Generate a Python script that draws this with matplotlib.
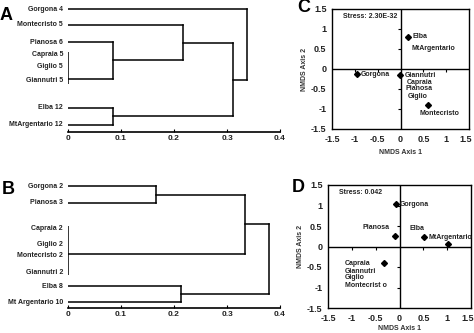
import matplotlib
matplotlib.use("Agg")
import matplotlib.pyplot as plt
import matplotlib.transforms as mtransforms

plt.rcParams['font.family'] = ['Liberation Sans', 'DejaVu Sans']

W, H = 474, 333

# ---------------- data ----------------
A_labels = ["Gorgona 4", "Montecristo 5", "Pianosa 6", "Capraia 5", "Giglio 5",
            "Giannutri 5", "Elba 12", "MtArgentario 12"]
A_leaf_y = [9.5, 25, 42, 55, 67, 81, 108, 125]
A_merges = [([3, 4, 5], 0.0), ([2, 8], 0.085), ([1, 9], 0.217),
            ([6, 7], 0.085), ([10, 11], 0.311), ([0, 12], 0.338)]
A_tie_anchor = 79

B_labels = ["Gorgona 2", "Pianosa 3", "Capraia 2", "Giglio 2", "Montecristo 2",
            "Giannutri 2", "Elba 8", "Mt Argentario 10"]
B_leaf_y = [186, 203, 229, 245, 255.5, 272, 286, 302]
B_merges = [([0, 1], 0.166), ([2, 3, 4, 5], 0.0), ([8, 9], 0.334),
            ([6, 7], 0.213), ([10, 11], 0.379)]
B_tie_anchor = 254

dendro_ticks = [0, 0.1, 0.2, 0.3, 0.4]
dendro_ticklabels = ["0", "0.1", "0.2", "0.3", "0.4"]

C_x = [0.16, -0.96, -0.02, 0.60]
C_y = [0.81, -0.13, -0.16, -0.91]
C_text = ["Elba", "MtArgentario", "Gorgona", "Giannutri", "Capraia", "Pianosa", "Giglio", "Montecristo"]
C_tx = [0.27, 0.23, -0.86, 0.09, 0.14, 0.12, 0.16, 0.42]
C_ty = [0.81, 0.52, -0.13, -0.16, -0.33, -0.48, -0.68, -1.12]
C_stress = "Stress: 2.30E-32"

D_x = [-0.07, -0.09, 0.51, 1.02, -0.33]
D_y = [1.03, 0.26, 0.23, 0.05, -0.40]
D_text = ["Gorgona", "Pianosa", "Elba", "MtArgentario", "Capraia", "Giannutri", "Giglio", "Montecrist o"]
D_tx = [0.01, -0.77, 0.20, 0.60, -1.14, -1.14, -1.14, -1.14]
D_ty = [1.03, 0.46, 0.44, 0.23, -0.41, -0.60, -0.75, -0.94]
D_stress = "Stress: 0.042"

nmds_ticks = [-1.5, -1, -0.5, 0, 0.5, 1, 1.5]
nmds_ticklabels = ["-1.5", "-1", "-0.5", "0", "0.5", "1", "1.5"]
zero_marks = [-1, -0.5, 0.5, 1]

# ---------------- figure ----------------
fig = plt.figure(figsize=(W / 100, H / 100), dpi=100)


def rect(x0, y0, x1, y1):
    """pixel box (top-left origin) -> figure fraction rect"""
    return [x0 / W, 1 - y1 / H, (x1 - x0) / W, (y1 - y0) / H]


LW = 1.1


def dendro(ax, labels, leaf_y, merges, tie_anchor, ytop, ybot):
    ax.set_xlim(0, 0.4)
    ax.set_ylim(ybot, ytop)
    pos = {i: (0.0, y) for i, y in enumerate(leaf_y)}
    n = len(leaf_y)
    for k, (kids, h) in enumerate(merges):
        ys = [pos[c][1] for c in kids]
        if h == 0:
            ax.plot([0, 0], [min(ys) - 3, max(ys) + 3], color='black', lw=LW,
                    solid_capstyle='butt')
            node_y = tie_anchor
        else:
            for c in kids:
                ax.plot([pos[c][0], h], [pos[c][1]] * 2, color='black', lw=LW,
                        solid_capstyle='projecting')
            ax.plot([h, h], [min(ys), max(ys)], color='black', lw=LW,
                    solid_capstyle='projecting')
            node_y = (min(ys) + max(ys)) / 2
        pos[n + k] = (h, node_y)
    off = mtransforms.offset_copy(ax.transData, fig=fig, x=-5, y=0, units='dots')
    for lab, y in zip(labels, leaf_y):
        ax.text(0, y, lab, transform=off, ha='right', va='center', fontsize=5,
                fontweight='bold', color='#222222')
    for s in ['top', 'right', 'left']:
        ax.spines[s].set_visible(False)
    ax.spines['bottom'].set_linewidth(1.2)
    ax.set_yticks([])
    ax.set_xticks(dendro_ticks)
    ax.set_xticklabels(dendro_ticklabels)
    ax.tick_params(axis='x', direction='in', length=2, width=0.8, pad=2,
                   labelsize=6)
    for t in ax.get_xticklabels():
        t.set_fontweight('bold')
        t.set_color('#222222')
    ax.patch.set_visible(False)


axA = fig.add_axes(rect(68, 0, 280, 132))
dendro(axA, A_labels, A_leaf_y, A_merges, A_tie_anchor, 0, 132)

axB = fig.add_axes(rect(68, 170, 280, 308))
dendro(axB, B_labels, B_leaf_y, B_merges, B_tie_anchor, 170, 308)


def nmds(ax, xs, ys, texts, tx, ty, stress, xlabelpad):
    ax.set_xlim(-1.5, 1.5)
    ax.set_ylim(-1.5, 1.5)
    ax.axhline(0, color='black', lw=1.0, zorder=1)
    ax.axvline(0, color='black', lw=1.0, zorder=1)
    ax.plot(zero_marks, [0] * len(zero_marks), ls='none', marker=3,
            markersize=2.5, color='black', mew=0.8)
    ax.plot([0] * len(zero_marks), zero_marks, ls='none', marker=0,
            markersize=2.5, color='black', mew=0.8)
    ax.plot(xs, ys, ls='none', marker='D', markersize=3, color='black', zorder=3)
    for t, x, y in zip(texts, tx, ty):
        ax.text(x, y, t, fontsize=5, fontweight='bold', ha='left', va='center',
                color='#222222')
    ax.text(0.08, 0.94, stress, transform=ax.transAxes, fontsize=5,
            fontweight='bold', ha='left', va='center', color='#222222')
    ax.set_xticks(nmds_ticks)
    ax.set_xticklabels(nmds_ticklabels)
    ax.set_yticks(nmds_ticks)
    ax.set_yticklabels(nmds_ticklabels)
    ax.tick_params(length=0, pad=4, labelsize=6.5)
    for t in ax.get_xticklabels() + ax.get_yticklabels():
        t.set_fontweight('bold')
        t.set_color('#222222')
    # keep the last x tick label inside the image edge
    last = ax.get_xticklabels()[-1]
    last.set_transform(last.get_transform() +
                       mtransforms.ScaledTranslation(-3 / 100, 0, fig.dpi_scale_trans))
    for s in ax.spines.values():
        s.set_linewidth(1.0)
    ax.set_xlabel("NMDS Axis 1", fontsize=5, fontweight='bold', labelpad=xlabelpad,
                  color='#333333')
    ax.set_ylabel("NMDS Axis 2", fontsize=5, fontweight='bold', labelpad=2,
                  color='#333333')


axC = fig.add_axes(rect(332, 9, 469, 129))
nmds(axC, C_x, C_y, C_text, C_tx, C_ty, C_stress, 4)

axD = fig.add_axes(rect(328, 185, 471, 308))
nmds(axD, D_x, D_y, D_text, D_tx, D_ty, D_stress, 2)

# panel letters
for letter, px, py in [("A", 0, 15), ("B", 2, 190), ("C", 297, 8), ("D", 292, 187)]:
    fig.text(px / W, 1 - py / H, letter, fontsize=13, fontweight='bold',
             ha='left', va='center')

fig.savefig("out.png", dpi=100)
